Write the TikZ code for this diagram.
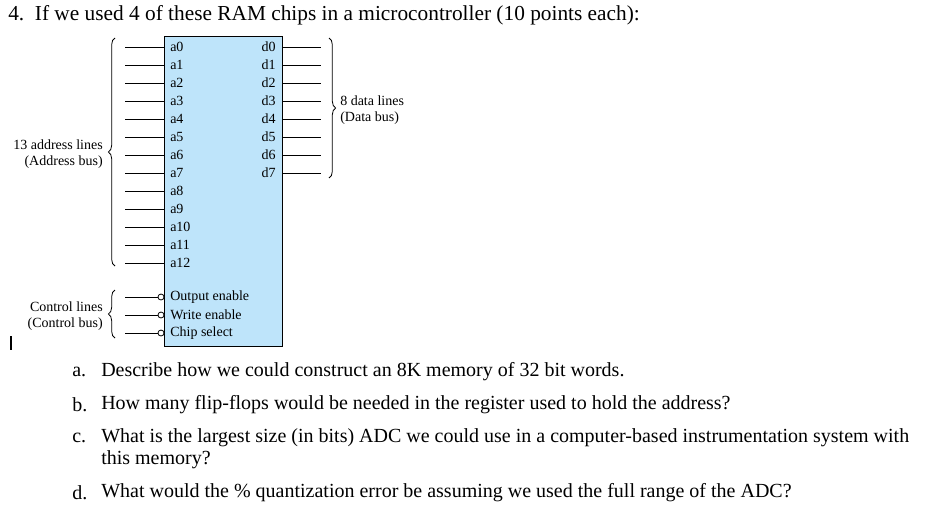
\documentclass[tikz,border=0pt]{standalone}
\usepackage{fontspec}
\setmainfont{Liberation Serif}
\usetikzlibrary{decorations.pathreplacing}
\begin{document}
\begin{tikzpicture}[x=0.75pt,y=-0.75pt,
  lab/.style={font=\fontsize{10.5}{12}\selectfont,inner sep=0pt},
  q/.style={font=\fontsize{15}{17}\selectfont,inner sep=0pt,anchor=west},
  wire/.style={line width=0.7pt},
  br/.style={decorate,decoration={brace,amplitude=5pt},line width=0.6pt}]
\useasboundingbox (0,0) rectangle (937,518);
\node[q,font=\fontsize{16}{18}\selectfont] (title) at (8,15) {4.\enspace If we used 4 of these RAM chips in a microcontroller (10 points each):};
\node[draw,line width=0.9pt,fill={rgb,255:red,190;green,228;blue,250},minimum width=88.5pt,minimum height=232.5pt,anchor=north west,inner sep=0] (chip) at (164,36) {};
\foreach \i in {0,...,12}{
  \coordinate (al\i) at (125,{47+18*\i});
  \draw[wire] (al\i) -- (164,{47+18*\i});
  \node[lab,anchor=west] (a\i) at (170,{47+18*\i}) {a\i};
}
\foreach \i in {0,...,7}{
  \coordinate (dr\i) at (321,{47+18*\i});
  \draw[wire] (282,{47+18*\i}) -- (dr\i);
  \node[lab,anchor=east] (d\i) at (276,{47+18*\i}) {d\i};
}
\foreach \t [count=\k from 0] in {Output enable,Write enable,Chip select}{
  \coordinate (cl\k) at (125,{297+18*\k});
  \node[draw,circle,minimum size=4.5pt,inner sep=0,fill=white,line width=0.6pt] (c\k) at (161,{297+18*\k}) {};
  \draw[wire] (cl\k) -- (c\k);
  \node[lab,anchor=west] (ct\k) at (170,{297+18*\k}) {\t};
}
\draw[br] (115,266) -- (115,38);
\draw[br] (329,38) -- (329,178);
\draw[br] (115,338) -- (115,290);
\node[lab,align=right,anchor=east] (al) at (103,154) {13 address lines\\(Address bus)};
\node[lab,align=left,anchor=west] (dl) at (340,110) {8 data lines\\(Data bus)};
\node[lab,align=right,anchor=east] (cll) at (103,316) {Control lines\\(Control bus)};
\draw[line width=0.8pt] (11,336) -- (11,350);
\foreach \l/\t/\y [count=\k] in {a./Describe how we could construct an 8K memory of 32 bit words./372,
  b./How many flip-flops would be needed in the register used to hold the address?/405,
  c./What is the largest size (in bits) ADC we could use in a computer-based instrumentation system with/438,
  d./What would the \% quantization error be assuming we used the full range of the ADC?/493}{
  \node[q] (ql\k) at (72,\y) {\l};
  \node[q] (qt\k) at (101,\y) {\t};
}
\node[q] (qc2) at (101,460) {this memory?};
\end{tikzpicture}
\end{document}
